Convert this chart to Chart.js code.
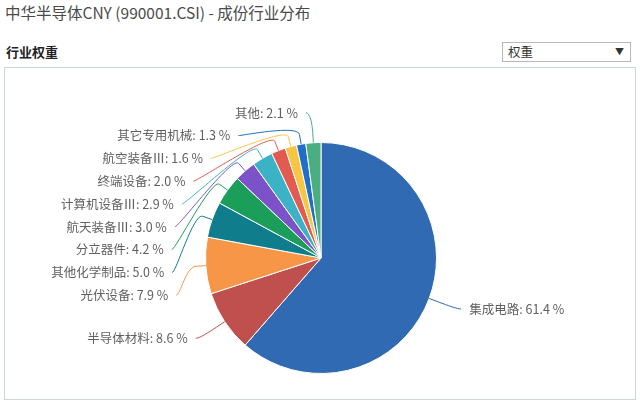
<!DOCTYPE html>
<html>
<head>
<meta charset="utf-8">
<script src="https://cdn.jsdelivr.net/npm/chart.js@4.4.1/dist/chart.umd.min.js"></script>
<style>
  body { margin: 0; width: 640px; height: 403px; background: #fff; overflow: hidden;
         font-family: "Noto Sans CJK SC", "Noto Sans", sans-serif; position: relative; }
  .title { position: absolute; left: 5px; top: 0px; font-size: 15.5px; color: #4a4a4a; line-height: 24px; }
  .sub { position: absolute; left: 6px; top: 42px; font-size: 13px; font-weight: bold; color: #222; line-height: 20px; }
  .sel { position: absolute; left: 502px; top: 42px; width: 129px; height: 20px; border: 1px solid #b8b8b8;
         box-sizing: border-box; font-size: 12.5px; color: #333; line-height: 18px; padding-left: 5px; background: #fff; }
  .sel span { position: absolute; right: 6px; top: 0; font-size: 9px; }
  .box { position: absolute; left: 4px; top: 67px; width: 632px; height: 333px; border: 1px solid #c9d6e0;
         box-sizing: border-box; }
  .box canvas { position: absolute; left: 0; top: 0; }
</style>
</head>
<body>
<div class="title">中华半导体CNY (990001.CSI) - 成份行业分布</div>
<div class="sub">行业权重</div>
<div class="sel">权重<span>▼</span></div>
<div class="box"><canvas id="pieChart" width="630" height="331"></canvas></div>
<script>
// ======================================================
// DATA
// ======================================================

const industries = ["集成电路", "半导体材料", "光伏设备", "其他化学制品", "分立器件", "航天装备Ⅲ",
                    "计算机设备Ⅲ", "终端设备", "航空装备Ⅲ", "其它专用机械", "其他"];

const weights = [61.4, 8.6, 7.9, 5.0, 4.2, 3.0, 2.9, 2.0, 1.6, 1.3, 2.1];

const sliceColors = ["#2f6ab3", "#c0504d", "#f79646", "#0f7d8c", "#1c9e5b", "#7b52c8",
                     "#3bb2c5", "#e25b51", "#f6c643", "#1f6fc9", "#4bae80"];

// ======================================================
// OUTSIDE LABELS WITH CONNECTORS
// ======================================================

const outsideLabels = {

    id: "outsideLabels",

    afterDatasetsDraw(chart) {

        const ctx = chart.ctx;
        const meta = chart.getDatasetMeta(0);
        const ds = chart.data.datasets[0];
        const labelDist = 30;
        const slotGap = 22.8;

        const items = meta.data.map(function (arc, i) {
            const mid = (arc.startAngle + arc.endAngle) / 2;
            const r = arc.outerRadius;
            return {
                i: i,
                cx: arc.x, cy: arc.y, r: r,
                cos: Math.cos(mid), sin: Math.sin(mid),
                left: Math.cos(mid) < 0,
                y: arc.y + Math.sin(mid) * (r + labelDist)
            };
        });

        // push labels apart on each side
        [true, false].forEach(function (side) {
            const group = items.filter(function (it) { return it.left === side; })
                               .sort(function (a, b) { return a.y - b.y; });
            let prev = -Infinity;
            group.forEach(function (it) {
                it.y = Math.max(it.y, prev + slotGap);
                prev = it.y;
            });
        });

        ctx.save();
        ctx.font = "12.5px 'Noto Sans CJK SC', sans-serif";
        ctx.textBaseline = "middle";

        items.forEach(function (it) {
            const R = it.r + labelDist;
            const dy = it.y - it.cy;
            const dx = Math.max(Math.sqrt(Math.max(0, R * R - dy * dy)), 11);
            const dir = it.left ? -1 : 1;
            const ax = it.cx + dir * dx;

            const ex = it.cx + it.cos * it.r;
            const ey = it.cy + it.sin * it.r;
            const px = it.cx + it.cos * (it.r + 10);
            const py = it.cy + it.sin * (it.r + 10);

            ctx.strokeStyle = ds.backgroundColor[it.i];
            ctx.lineWidth = 1;
            ctx.beginPath();
            ctx.moveTo(ax + dir * 4, it.y);
            ctx.bezierCurveTo(ax, it.y, 2 * px - ex, 2 * py - ey, px, py);
            ctx.lineTo(ex, ey);
            ctx.stroke();

            ctx.fillStyle = "#606060";
            ctx.textAlign = it.left ? "right" : "left";
            const txt = chart.data.labels[it.i] + ": " + ds.data[it.i].toFixed(1) + " %";
            ctx.fillText(txt, ax + dir * 12, it.y);
        });

        ctx.restore();
    }
};

// ======================================================
// PIE CHART
// ======================================================

const canvas = document.getElementById("pieChart");

new Chart(canvas.getContext("2d"), {

    type: "pie",

    data: {
        labels: industries,
        datasets: [
            {
                data: weights,
                backgroundColor: sliceColors,
                borderColor: "#ffffff",
                borderWidth: 1
            }
        ]
    },

    options: {
        responsive: false,
        animation: false,
        layout: {
            padding: { top: 74, bottom: 25, left: 200, right: 198 }
        },
        plugins: {
            legend: { display: false },
            tooltip: { enabled: false }
        }
    },

    plugins: [outsideLabels]

});
</script>
</body>
</html>
